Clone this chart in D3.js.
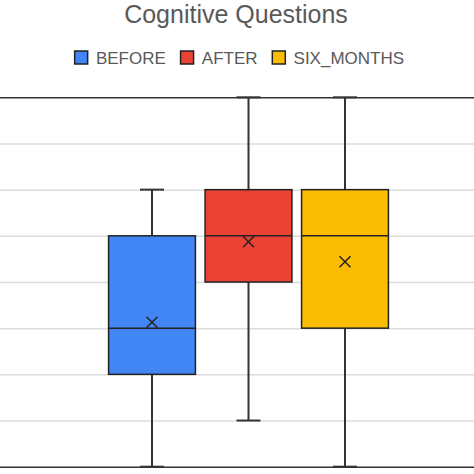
<!DOCTYPE html>
<html>
<head>
<meta charset="utf-8">
<script src="https://cdn.jsdelivr.net/npm/d3@7"></script>
<style>
  body { margin: 0; background: #fff; }
  text { font-family: "Liberation Sans", Arial, sans-serif; }
</style>
</head>
<body>
<svg id="chart" width="474" height="474"></svg>
<script>
// series and their box statistics
const series = ['BEFORE', 'AFTER', 'SIX_MONTHS'];
const colors = ['#4285f4', '#ea4335', '#fbbc04'];
const mins = [0, 1, 0];
const q1s = [2, 4, 3];
const medians = [3, 5, 5];
const q3s = [5, 6, 6];
const maxs = [6, 8, 8];
const means = [3.13, 4.87, 4.44];
const yTicks = [0, 1, 2, 3, 4, 5, 6, 7, 8];

const svg = d3.select('#chart');
const width = +svg.attr('width');

const boxes = series.map((s, i) => ({
  name: s, color: colors[i], min: mins[i], q1: q1s[i],
  median: medians[i], q3: q3s[i], max: maxs[i], mean: means[i]
}));

const x = d3.scaleBand()
  .domain(series)
  .range([103.75, 393.25])
  .paddingInner(0.1)
  .paddingOuter(0.05);

const y = d3.scaleLinear()
  .domain([0, 8])
  .range([466.7, 97.3]);

// grid (axisLeft with negative tick size -> lines run right across the chart)
const yAxis = d3.axisLeft(y)
  .tickValues(yTicks)
  .tickSize(-width)
  .tickFormat('');

const gridG = svg.append('g').call(yAxis);
gridG.select('.domain').remove();
gridG.selectAll('.tick line')
  .attr('stroke', d => (d === 0 || d === 8) ? '#333' : '#dcdcdc')
  .attr('stroke-width', 1.5);

// whiskers
const g = svg.append('g');
const cx = d => x(d.name) + x.bandwidth() / 2;
const capW = 12;

g.selectAll('.whisker')
  .data(boxes)
  .join('line')
  .attr('class', 'whisker')
  .attr('x1', cx).attr('x2', cx)
  .attr('y1', d => y(d.min)).attr('y2', d => y(d.max))
  .attr('stroke', '#333')
  .attr('stroke-width', 2);

['min', 'max'].forEach(k => {
  g.selectAll('.cap-' + k)
    .data(boxes)
    .join('line')
    .attr('class', 'cap-' + k)
    .attr('x1', d => cx(d) - capW).attr('x2', d => cx(d) + capW)
    .attr('y1', d => y(d[k])).attr('y2', d => y(d[k]))
    .attr('stroke', '#333')
    .attr('stroke-width', 2);
});

// boxes
g.selectAll('.box')
  .data(boxes)
  .join('rect')
  .attr('class', 'box')
  .attr('x', d => x(d.name))
  .attr('width', x.bandwidth())
  .attr('y', d => y(d.q3))
  .attr('height', d => y(d.q1) - y(d.q3))
  .attr('fill', d => d.color)
  .attr('stroke', '#222')
  .attr('stroke-width', 1.5);

g.selectAll('.median')
  .data(boxes)
  .join('line')
  .attr('class', 'median')
  .attr('x1', d => x(d.name)).attr('x2', d => x(d.name) + x.bandwidth())
  .attr('y1', d => y(d.median)).attr('y2', d => y(d.median))
  .attr('stroke', '#222')
  .attr('stroke-width', 1.5);

// mean markers
const m = 5.5;
g.selectAll('.mean')
  .data(boxes)
  .join('path')
  .attr('class', 'mean')
  .attr('d', d => {
    const px = cx(d), py = y(d.mean);
    return `M${px - m},${py - m}L${px + m},${py + m}M${px - m},${py + m}L${px + m},${py - m}`;
  })
  .attr('stroke', '#222')
  .attr('stroke-width', 1.5)
  .attr('fill', 'none');

// title
svg.append('text')
  .attr('x', 236)
  .attr('y', 23)
  .attr('text-anchor', 'middle')
  .attr('font-size', 25)
  .attr('fill', '#595959')
  .text('Cognitive Questions');

// legend
const legend = svg.append('g');
let lx = 0;
series.forEach((s, i) => {
  const item = legend.append('g').attr('transform', `translate(${lx},0)`);
  item.append('rect')
    .attr('x', 0.75).attr('y', 51)
    .attr('width', 13).attr('height', 13)
    .attr('fill', colors[i])
    .attr('stroke', '#222')
    .attr('stroke-width', 1.5);
  const t = item.append('text')
    .attr('x', 22)
    .attr('y', 64.3)
    .attr('font-size', 17)
    .attr('fill', '#595959')
    .text(s);
  lx += 22 + t.node().getComputedTextLength() + 14;
});
const legendW = lx - 14;
legend.attr('transform', `translate(${239 - legendW / 2},0)`);
</script>
</body>
</html>
